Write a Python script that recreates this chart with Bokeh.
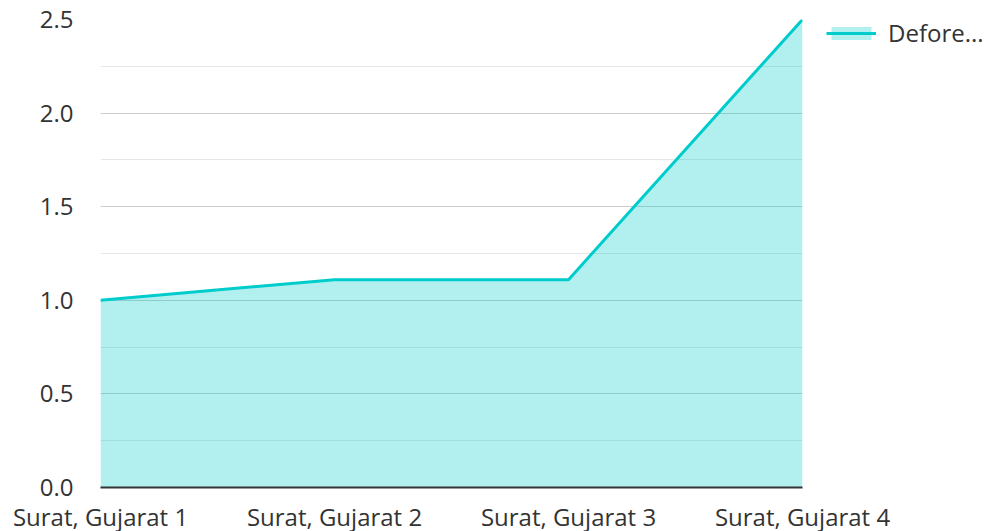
from bokeh.plotting import figure
from bokeh.models import ColumnDataSource, Legend, LegendItem, FixedTicker, NumeralTickFormatter
from bokeh.embed import file_html
from bokeh.resources import INLINE

categories = ["Surat, Gujarat 1", "Surat, Gujarat 2", "Surat, Gujarat 3", "Surat, Gujarat 4"]
values = [1.0, 1.11, 1.11, 2.5]
series_name = "Defore..."
y_ticks = [0, 0.5, 1.0, 1.5, 2.0, 2.5]
y_minor = [0.25, 0.75, 1.25, 1.75, 2.25]

xs = list(range(len(categories)))
src = ColumnDataSource(dict(x=xs, y=values, y0=[0] * len(xs)))

FONT = "Open Sans"
TXT = "#333333"
COLOR = "#00cccc"
FS = "24px"

p = figure(frame_width=702, frame_height=468, output_backend="svg", toolbar_location=None,
           x_range=(0, 3), y_range=(0, 2.5),
           min_border_left=100, min_border_top=19, min_border_right=0, min_border_bottom=44)
p.outline_line_color = None

area = p.varea(x="x", y1="y0", y2="y", source=src, fill_color=COLOR, fill_alpha=0.3)
line = p.line(x="x", y="y", source=src, line_color=COLOR, line_width=3)

p.xaxis.ticker = FixedTicker(ticks=xs)
p.xaxis.major_label_overrides = {i: c for i, c in enumerate(categories)}
p.xaxis.axis_line_color = "#333333"
p.xaxis.axis_line_width = 2
p.xaxis.major_tick_line_color = None
p.xaxis.minor_tick_line_color = None
p.xaxis.major_label_standoff = 6
p.xaxis.major_label_text_font = FONT
p.xaxis.major_label_text_font_size = FS
p.xaxis.major_label_text_color = TXT

p.yaxis.ticker = FixedTicker(ticks=y_ticks, minor_ticks=y_minor)
p.yaxis.formatter = NumeralTickFormatter(format="0.0")
p.yaxis.axis_line_color = None
p.yaxis.major_tick_line_color = None
p.yaxis.minor_tick_line_color = None
p.yaxis.major_label_standoff = 21
p.yaxis.major_label_text_font = FONT
p.yaxis.major_label_text_font_size = FS
p.yaxis.major_label_text_color = TXT

p.xgrid.grid_line_color = None
p.ygrid.grid_line_color = "#cccccc"
p.ygrid.grid_line_width = 1
p.ygrid.minor_grid_line_color = "#e6e6e6"

legend = Legend(items=[LegendItem(label=series_name, renderers=[area, line])],
                location=(24, 438), orientation="vertical",
                label_text_font=FONT, label_text_font_size=FS, label_text_color=TXT,
                glyph_width=50, glyph_height=16, label_standoff=12,
                padding=0, margin=0, border_line_color=None, background_fill_alpha=0)
p.add_layout(legend, "right")

open("out.html", "w").write(file_html(p, INLINE))
